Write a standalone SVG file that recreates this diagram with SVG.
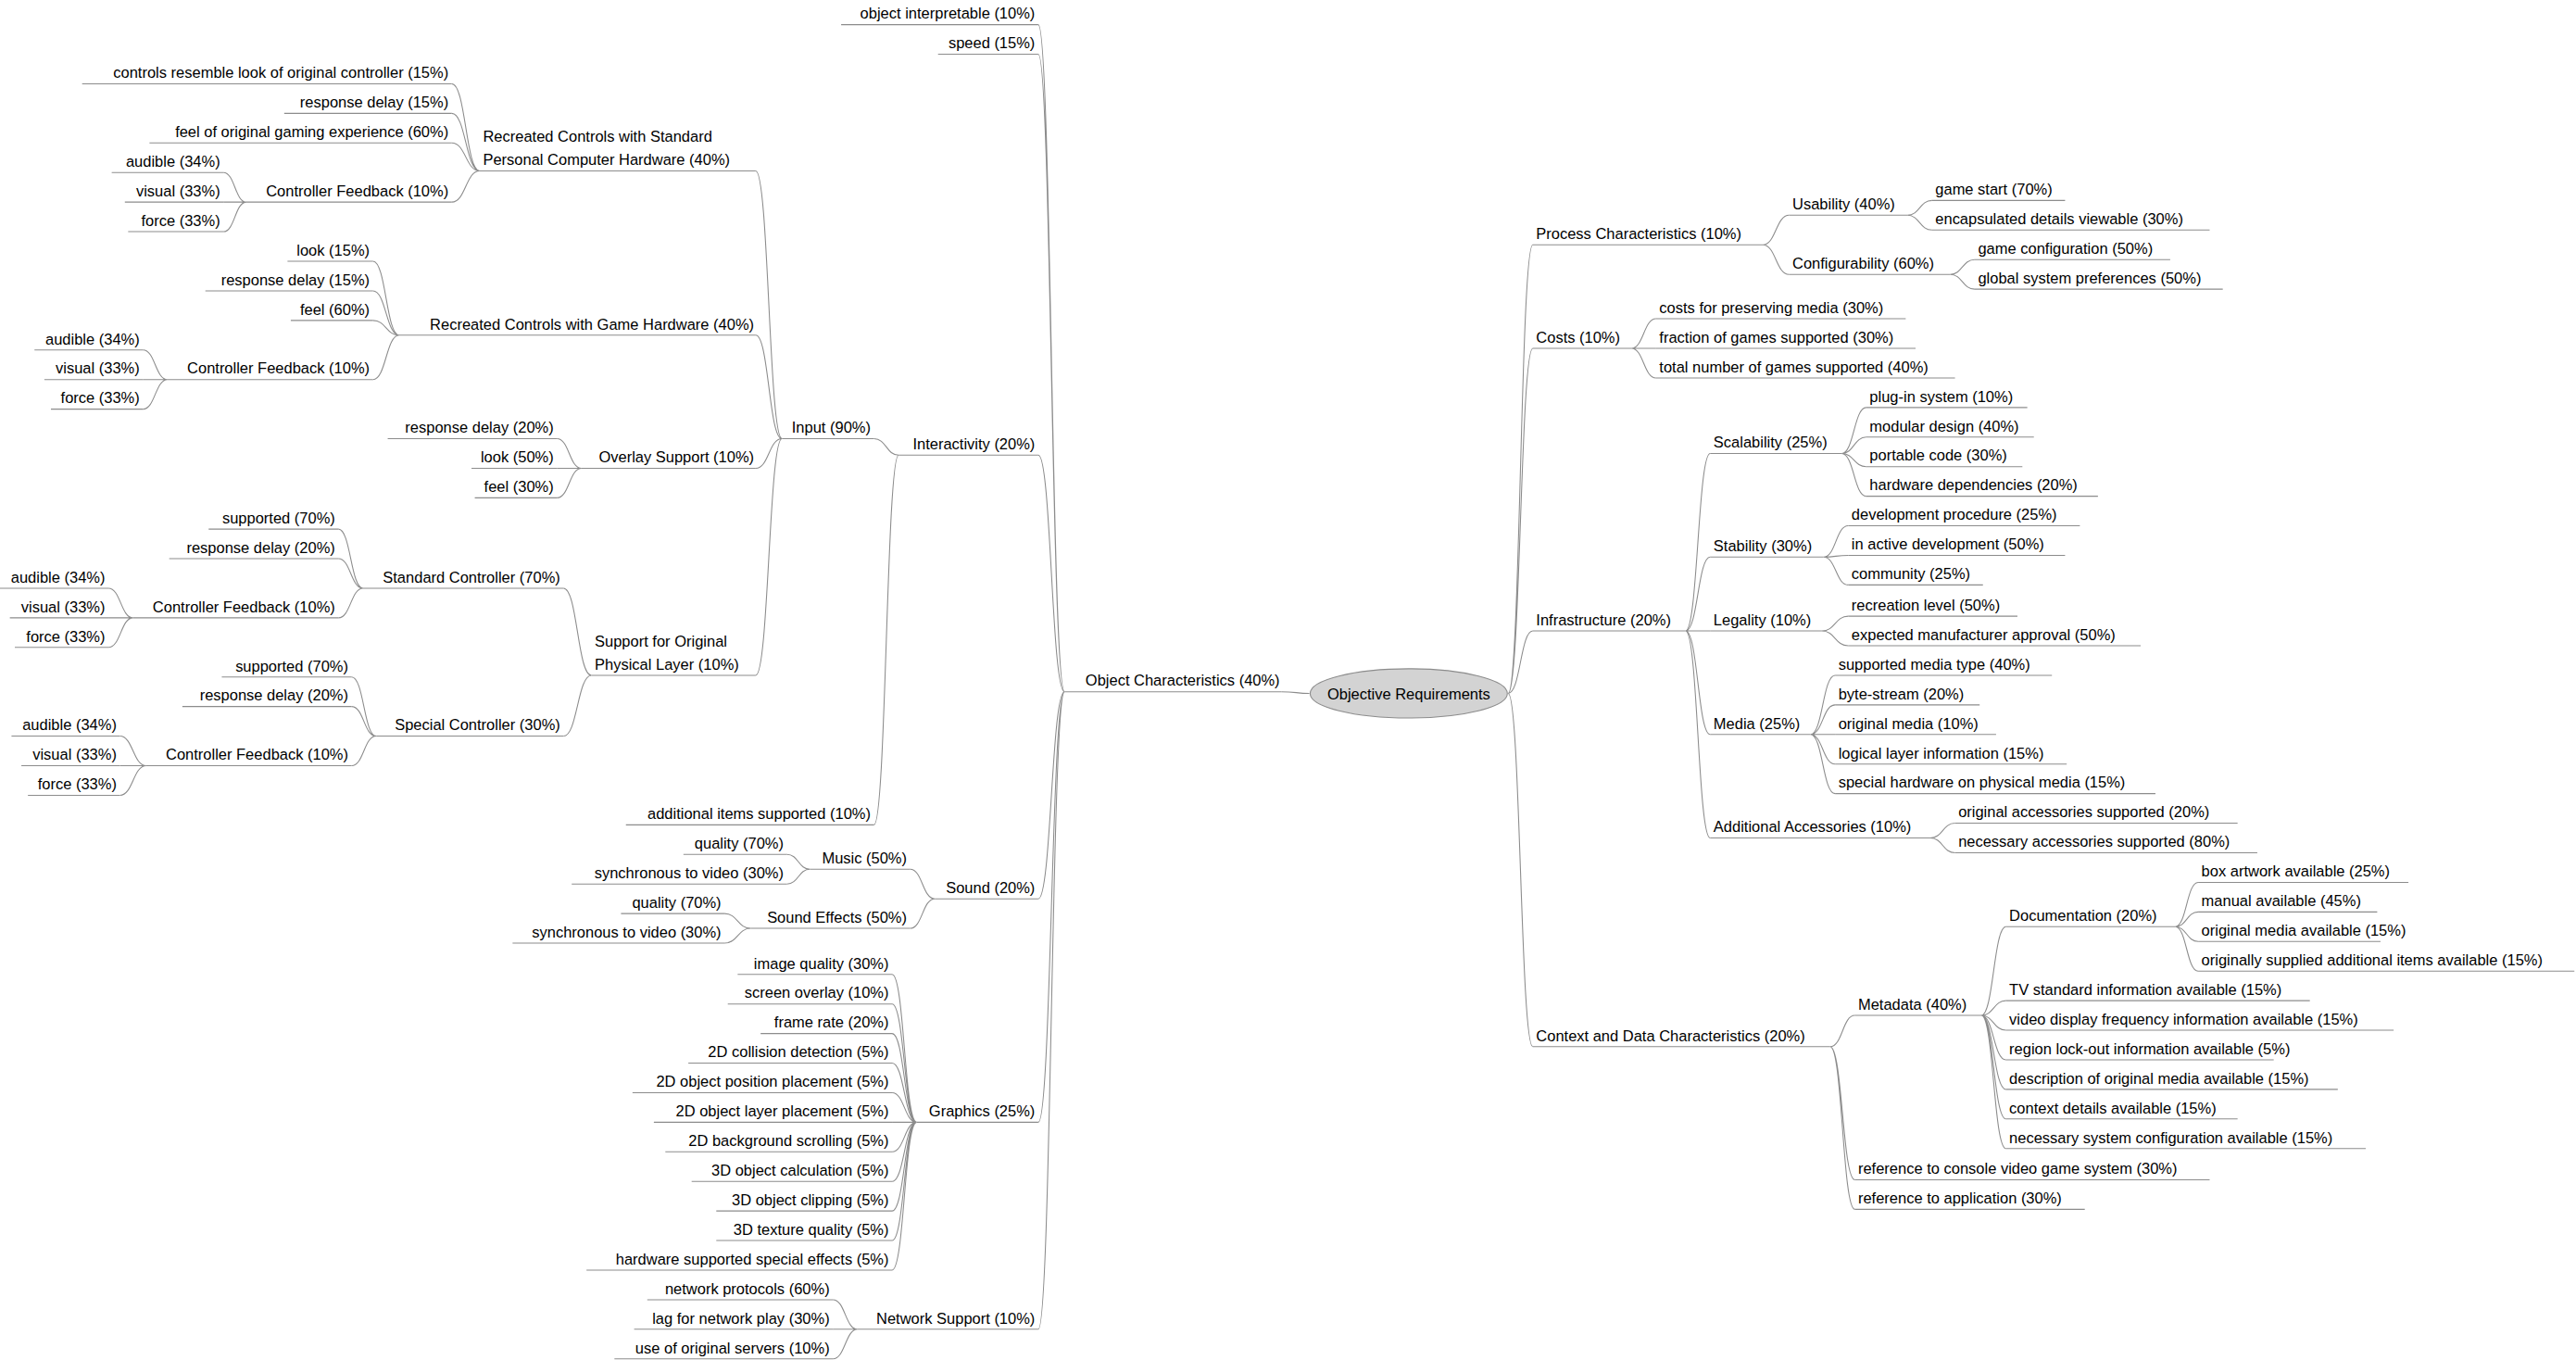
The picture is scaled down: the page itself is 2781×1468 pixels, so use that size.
<svg xmlns="http://www.w3.org/2000/svg" width="2781" height="1468" viewBox="0 0 2781 1468">
<style>
text{font-family:"Liberation Sans",Arial,sans-serif;font-size:9.3px;fill:#000}
.l{text-anchor:end}
.u,.c path{stroke:#8c8c8c;stroke-width:0.6;fill:none}
</style>
<rect width="2781" height="1468" fill="#fff"/>
<g transform="scale(1.7736)">
<g class="c" id="connectors">
<path d="M780 421C789 421 789 422 797 422"/>
<path d="M648 421C640 421 640 15 632 15M648 421C640 421 640 33 632 33M648 421C640 421 640 277 632 277M648 421C640 421 640 547 632 547M648 421C640 421 640 683 632 683M648 421C640 421 640 809 632 809"/>
<path d="M547 277C539.5 277 539.5 267 532 267M547 277C539.5 277 539.5 502 532 502"/>
<path d="M476 267C468 267 468 104 460 104M476 267C468 267 468 204 460 204M476 267C468 267 468 285 460 285M476 267C468 267 468 411 460 411"/>
<path d="M292 104C283.5 104 283.5 51 275 51M292 104C283.5 104 283.5 69 275 69M292 104C283.5 104 283.5 87 275 87M292 104C283.5 104 283.5 123 275 123"/>
<path d="M150 123C143 123 143 105 136 105M150 123C143 123 143 123 136 123M150 123C143 123 143 141 136 141"/>
<path d="M243 204C235 204 235 159 227 159M243 204C235 204 235 177 227 177M243 204C235 204 235 195 227 195M243 204C235 204 235 231 227 231"/>
<path d="M102 231C94.5 231 94.5 213 87 213M102 231C94.5 231 94.5 231 87 231M102 231C94.5 231 94.5 249 87 249"/>
<path d="M354 285C346.5 285 346.5 267 339 267M354 285C346.5 285 346.5 285 339 285M354 285C346.5 285 346.5 303 339 303"/>
<path d="M360 411C351.5 411 351.5 358 343 358M360 411C351.5 411 351.5 448 343 448"/>
<path d="M221 358C213.5 358 213.5 322 206 322M221 358C213.5 358 213.5 340 206 340M221 358C213.5 358 213.5 376 206 376"/>
<path d="M81 376C73.5 376 73.5 358 66 358M81 376C73.5 376 73.5 376 66 376M81 376C73.5 376 73.5 394 66 394"/>
<path d="M229 448C221.5 448 221.5 412 214 412M229 448C221.5 448 221.5 430 214 430M229 448C221.5 448 221.5 466 214 466"/>
<path d="M89 466C81 466 81 448 73 448M89 466C81 466 81 466 73 466M89 466C81 466 81 484 73 484"/>
<path d="M569 547C561.5 547 561.5 529 554 529M569 547C561.5 547 561.5 565 554 565"/>
<path d="M493 529C486 529 486 520 479 520M493 529C486 529 486 538 479 538"/>
<path d="M457 565C449 565 449 556 441 556M457 565C449 565 449 574 441 574"/>
<path d="M558 683C550.5 683 550.5 593 543 593M558 683C550.5 683 550.5 611 543 611M558 683C550.5 683 550.5 629 543 629M558 683C550.5 683 550.5 647 543 647M558 683C550.5 683 550.5 665 543 665M558 683C550.5 683 550.5 683 543 683M558 683C550.5 683 550.5 701 543 701M558 683C550.5 683 550.5 719 543 719M558 683C550.5 683 550.5 737 543 737M558 683C550.5 683 550.5 755 543 755M558 683C550.5 683 550.5 773 543 773"/>
<path d="M522 809C514.5 809 514.5 791 507 791M522 809C514.5 809 514.5 809 507 809M522 809C514.5 809 514.5 827 507 827"/>
<path d="M918 422C925.5 422 925.5 149 933 149M918 422C925.5 422 925.5 212 933 212M918 422C925.5 422 925.5 384 933 384M918 422C925.5 422 925.5 637 933 637"/>
<path d="M1073 149C1081 149 1081 131 1089 131M1073 149C1081 149 1081 167 1089 167"/>
<path d="M1161 131C1168.5 131 1168.5 122 1176 122M1161 131C1168.5 131 1168.5 140 1176 140"/>
<path d="M1187 167C1194.5 167 1194.5 158 1202 158M1187 167C1194.5 167 1194.5 176 1202 176"/>
<path d="M993 212C1000.5 212 1000.5 194 1008 194M993 212C1000.5 212 1000.5 212 1008 212M993 212C1000.5 212 1000.5 230 1008 230"/>
<path d="M1026 384C1033.5 384 1033.5 276 1041 276M1026 384C1033.5 384 1033.5 339 1041 339M1026 384C1033.5 384 1033.5 384 1041 384M1026 384C1033.5 384 1033.5 447 1041 447M1026 384C1033.5 384 1033.5 510 1041 510"/>
<path d="M1121 276C1128.5 276 1128.5 248 1136 248M1121 276C1128.5 276 1128.5 266 1136 266M1121 276C1128.5 276 1128.5 284 1136 284M1121 276C1128.5 276 1128.5 302 1136 302"/>
<path d="M1110 339C1117.5 339 1117.5 320 1125 320M1110 339C1117.5 339 1117.5 338 1125 338M1110 339C1117.5 339 1117.5 356 1125 356"/>
<path d="M1109 384C1117 384 1117 375 1125 375M1109 384C1117 384 1117 393 1125 393"/>
<path d="M1102 447C1109.5 447 1109.5 411 1117 411M1102 447C1109.5 447 1109.5 429 1117 429M1102 447C1109.5 447 1109.5 447 1117 447M1102 447C1109.5 447 1109.5 465 1117 465M1102 447C1109.5 447 1109.5 483 1117 483"/>
<path d="M1175 510C1182.5 510 1182.5 501 1190 501M1175 510C1182.5 510 1182.5 519 1190 519"/>
<path d="M1114 637C1121.5 637 1121.5 618 1129 618M1114 637C1121.5 637 1121.5 718 1129 718M1114 637C1121.5 637 1121.5 736 1129 736"/>
<path d="M1206 618C1213.5 618 1213.5 564 1221 564M1206 618C1213.5 618 1213.5 609 1221 609M1206 618C1213.5 618 1213.5 627 1221 627M1206 618C1213.5 618 1213.5 645 1221 645M1206 618C1213.5 618 1213.5 663 1221 663M1206 618C1213.5 618 1213.5 681 1221 681M1206 618C1213.5 618 1213.5 699 1221 699"/>
<path d="M1324 564C1331 564 1331 537 1338 537M1324 564C1331 564 1331 555 1338 555M1324 564C1331 564 1331 573 1338 573M1324 564C1331 564 1331 591 1338 591"/>
</g>
<g id="root"><ellipse cx="857.5" cy="422" rx="60" ry="15" fill="#d3d3d3" stroke="#8c8c8c" stroke-width="0.6"/><text x="857.5" y="425.5" text-anchor="middle">Objective Requirements</text></g>
<g id="oc"><text class="l" x="779" y="417.5">Object Characteristics (40%)</text><path class="u" d="M648 421H780"/></g>
<g id="oi"><text class="l" x="630" y="11.5">object interpretable (10%)</text><path class="u" d="M512 15H632"/></g>
<g id="sp"><text class="l" x="630" y="29.5">speed (15%)</text><path class="u" d="M571 33H632"/></g>
<g id="inter"><text class="l" x="630" y="273.5">Interactivity (20%)</text><path class="u" d="M547 277H632"/></g>
<g id="input"><text class="l" x="530" y="263.5">Input (90%)</text><path class="u" d="M476 267H532"/></g>
<g id="addit"><text class="l" x="530" y="498.5">additional items supported (10%)</text><path class="u" d="M381 502H532"/></g>
<g id="rcs"><text x="294" y="86.5">Recreated Controls with Standard</text><text x="294" y="100.5">Personal Computer Hardware (40%)</text><path class="u" d="M292 104H460"/></g>
<g id="rcs1"><text class="l" x="273" y="47.5">controls resemble look of original controller (15%)</text><path class="u" d="M50 51H275"/></g>
<g id="rcs2"><text class="l" x="273" y="65.5">response delay (15%)</text><path class="u" d="M173 69H275"/></g>
<g id="rcs3"><text class="l" x="273" y="83.5">feel of original gaming experience (60%)</text><path class="u" d="M91 87H275"/></g>
<g id="cf1"><text class="l" x="273" y="119.5">Controller Feedback (10%)</text><path class="u" d="M150 123H275"/></g>
<g id="cf1a"><text class="l" x="134" y="101.5">audible (34%)</text><path class="u" d="M68 105H136"/></g>
<g id="cf1b"><text class="l" x="134" y="119.5">visual (33%)</text><path class="u" d="M76 123H136"/></g>
<g id="cf1c"><text class="l" x="134" y="137.5">force (33%)</text><path class="u" d="M78 141H136"/></g>
<g id="rcg"><text class="l" x="459" y="200.5">Recreated Controls with Game Hardware (40%)</text><path class="u" d="M243 204H460"/></g>
<g id="rcg1"><text class="l" x="225" y="155.5">look (15%)</text><path class="u" d="M175 159H227"/></g>
<g id="rcg2"><text class="l" x="225" y="173.5">response delay (15%)</text><path class="u" d="M125 177H227"/></g>
<g id="rcg3"><text class="l" x="225" y="191.5">feel (60%)</text><path class="u" d="M177 195H227"/></g>
<g id="cf2"><text class="l" x="225" y="227.5">Controller Feedback (10%)</text><path class="u" d="M102 231H227"/></g>
<g id="cf2a"><text class="l" x="85" y="209.5">audible (34%)</text><path class="u" d="M21 213H87"/></g>
<g id="cf2b"><text class="l" x="85" y="227.5">visual (33%)</text><path class="u" d="M27 231H87"/></g>
<g id="cf2c"><text class="l" x="85" y="245.5">force (33%)</text><path class="u" d="M31 249H87"/></g>
<g id="ov"><text class="l" x="459" y="281.5">Overlay Support (10%)</text><path class="u" d="M354 285H460"/></g>
<g id="ov1"><text class="l" x="337" y="263.5">response delay (20%)</text><path class="u" d="M236 267H339"/></g>
<g id="ov2"><text class="l" x="337" y="281.5">look (50%)</text><path class="u" d="M287 285H339"/></g>
<g id="ov3"><text class="l" x="337" y="299.5">feel (30%)</text><path class="u" d="M289 303H339"/></g>
<g id="so"><text x="362" y="393.5">Support for Original</text><text x="362" y="407.5">Physical Layer (10%)</text><path class="u" d="M360 411H460"/></g>
<g id="sc"><text class="l" x="341" y="354.5">Standard Controller (70%)</text><path class="u" d="M221 358H343"/></g>
<g id="sc1"><text class="l" x="204" y="318.5">supported (70%)</text><path class="u" d="M127 322H206"/></g>
<g id="sc2"><text class="l" x="204" y="336.5">response delay (20%)</text><path class="u" d="M103 340H206"/></g>
<g id="cf3"><text class="l" x="204" y="372.5">Controller Feedback (10%)</text><path class="u" d="M81 376H206"/></g>
<g id="cf3a"><text class="l" x="64" y="354.5">audible (34%)</text><path class="u" d="M0 358H66"/></g>
<g id="cf3b"><text class="l" x="64" y="372.5">visual (33%)</text><path class="u" d="M6 376H66"/></g>
<g id="cf3c"><text class="l" x="64" y="390.5">force (33%)</text><path class="u" d="M9 394H66"/></g>
<g id="spc"><text class="l" x="341" y="444.5">Special Controller (30%)</text><path class="u" d="M229 448H343"/></g>
<g id="spc1"><text class="l" x="212" y="408.5">supported (70%)</text><path class="u" d="M135 412H214"/></g>
<g id="spc2"><text class="l" x="212" y="426.5">response delay (20%)</text><path class="u" d="M111 430H214"/></g>
<g id="cf4"><text class="l" x="212" y="462.5">Controller Feedback (10%)</text><path class="u" d="M89 466H214"/></g>
<g id="cf4a"><text class="l" x="71" y="444.5">audible (34%)</text><path class="u" d="M7 448H73"/></g>
<g id="cf4b"><text class="l" x="71" y="462.5">visual (33%)</text><path class="u" d="M13 466H73"/></g>
<g id="cf4c"><text class="l" x="71" y="480.5">force (33%)</text><path class="u" d="M17 484H73"/></g>
<g id="snd"><text class="l" x="630" y="543.5">Sound (20%)</text><path class="u" d="M569 547H632"/></g>
<g id="mus"><text class="l" x="552" y="525.5">Music (50%)</text><path class="u" d="M493 529H554"/></g>
<g id="mus1"><text class="l" x="477" y="516.5">quality (70%)</text><path class="u" d="M416 520H479"/></g>
<g id="mus2"><text class="l" x="477" y="534.5">synchronous to video (30%)</text><path class="u" d="M348 538H479"/></g>
<g id="sfx"><text class="l" x="552" y="561.5">Sound Effects (50%)</text><path class="u" d="M457 565H554"/></g>
<g id="sfx1"><text class="l" x="439" y="552.5">quality (70%)</text><path class="u" d="M378 556H441"/></g>
<g id="sfx2"><text class="l" x="439" y="570.5">synchronous to video (30%)</text><path class="u" d="M312 574H441"/></g>
<g id="gfx"><text class="l" x="630" y="679.5">Graphics (25%)</text><path class="u" d="M558 683H632"/></g>
<g id="g1"><text class="l" x="541" y="589.5">image quality (30%)</text><path class="u" d="M449 593H543"/></g>
<g id="g2"><text class="l" x="541" y="607.5">screen overlay (10%)</text><path class="u" d="M443 611H543"/></g>
<g id="g3"><text class="l" x="541" y="625.5">frame rate (20%)</text><path class="u" d="M463 629H543"/></g>
<g id="g4"><text class="l" x="541" y="643.5">2D collision detection (5%)</text><path class="u" d="M419 647H543"/></g>
<g id="g5"><text class="l" x="541" y="661.5">2D object position placement (5%)</text><path class="u" d="M385 665H543"/></g>
<g id="g6"><text class="l" x="541" y="679.5">2D object layer placement (5%)</text><path class="u" d="M398 683H543"/></g>
<g id="g7"><text class="l" x="541" y="697.5">2D background scrolling (5%)</text><path class="u" d="M405 701H543"/></g>
<g id="g8"><text class="l" x="541" y="715.5">3D object calculation (5%)</text><path class="u" d="M421 719H543"/></g>
<g id="g9"><text class="l" x="541" y="733.5">3D object clipping (5%)</text><path class="u" d="M436 737H543"/></g>
<g id="g10"><text class="l" x="541" y="751.5">3D texture quality (5%)</text><path class="u" d="M436 755H543"/></g>
<g id="g11"><text class="l" x="541" y="769.5">hardware supported special effects (5%)</text><path class="u" d="M357 773H543"/></g>
<g id="net"><text class="l" x="630" y="805.5">Network Support (10%)</text><path class="u" d="M522 809H632"/></g>
<g id="net1"><text class="l" x="505" y="787.5">network protocols (60%)</text><path class="u" d="M394 791H507"/></g>
<g id="net2"><text class="l" x="505" y="805.5">lag for network play (30%)</text><path class="u" d="M386 809H507"/></g>
<g id="net3"><text class="l" x="505" y="823.5">use of original servers (10%)</text><path class="u" d="M374 827H507"/></g>
<g id="pc"><text x="935" y="145.5">Process Characteristics (10%)</text><path class="u" d="M933 149H1073"/></g>
<g id="us"><text x="1091" y="127.5">Usability (40%)</text><path class="u" d="M1089 131H1161"/></g>
<g id="us1"><text x="1178" y="118.5">game start (70%)</text><path class="u" d="M1176 122H1257"/></g>
<g id="us2"><text x="1178" y="136.5">encapsulated details viewable (30%)</text><path class="u" d="M1176 140H1345"/></g>
<g id="cfg"><text x="1091" y="163.5">Configurability (60%)</text><path class="u" d="M1089 167H1187"/></g>
<g id="cfg1"><text x="1204" y="154.5">game configuration (50%)</text><path class="u" d="M1202 158H1321"/></g>
<g id="cfg2"><text x="1204" y="172.5">global system preferences (50%)</text><path class="u" d="M1202 176H1353"/></g>
<g id="cost"><text x="935" y="208.5">Costs (10%)</text><path class="u" d="M933 212H993"/></g>
<g id="cost1"><text x="1010" y="190.5">costs for preserving media (30%)</text><path class="u" d="M1008 194H1160"/></g>
<g id="cost2"><text x="1010" y="208.5">fraction of games supported (30%)</text><path class="u" d="M1008 212H1166"/></g>
<g id="cost3"><text x="1010" y="226.5">total number of games supported (40%)</text><path class="u" d="M1008 230H1190"/></g>
<g id="inf"><text x="935" y="380.5">Infrastructure (20%)</text><path class="u" d="M933 384H1026"/></g>
<g id="scal"><text x="1043" y="272.5">Scalability (25%)</text><path class="u" d="M1041 276H1121"/></g>
<g id="scal1"><text x="1138" y="244.5">plug-in system (10%)</text><path class="u" d="M1136 248H1234"/></g>
<g id="scal2"><text x="1138" y="262.5">modular design (40%)</text><path class="u" d="M1136 266H1238"/></g>
<g id="scal3"><text x="1138" y="280.5">portable code (30%)</text><path class="u" d="M1136 284H1231"/></g>
<g id="scal4"><text x="1138" y="298.5">hardware dependencies (20%)</text><path class="u" d="M1136 302H1277"/></g>
<g id="stab"><text x="1043" y="335.5">Stability (30%)</text><path class="u" d="M1041 339H1110"/></g>
<g id="stab1"><text x="1127" y="316.5">development procedure (25%)</text><path class="u" d="M1125 320H1266"/></g>
<g id="stab2"><text x="1127" y="334.5">in active development (50%)</text><path class="u" d="M1125 338H1257"/></g>
<g id="stab3"><text x="1127" y="352.5">community (25%)</text><path class="u" d="M1125 356H1207"/></g>
<g id="leg"><text x="1043" y="380.5">Legality (10%)</text><path class="u" d="M1041 384H1109"/></g>
<g id="leg1"><text x="1127" y="371.5">recreation level (50%)</text><path class="u" d="M1125 375H1228"/></g>
<g id="leg2"><text x="1127" y="389.5">expected manufacturer approval (50%)</text><path class="u" d="M1125 393H1303"/></g>
<g id="med"><text x="1043" y="443.5">Media (25%)</text><path class="u" d="M1041 447H1102"/></g>
<g id="med1"><text x="1119" y="407.5">supported media type (40%)</text><path class="u" d="M1117 411H1249"/></g>
<g id="med2"><text x="1119" y="425.5">byte-stream (20%)</text><path class="u" d="M1117 429H1205"/></g>
<g id="med3"><text x="1119" y="443.5">original media (10%)</text><path class="u" d="M1117 447H1215"/></g>
<g id="med4"><text x="1119" y="461.5">logical layer information (15%)</text><path class="u" d="M1117 465H1258"/></g>
<g id="med5"><text x="1119" y="479.5">special hardware on physical media (15%)</text><path class="u" d="M1117 483H1312"/></g>
<g id="acc"><text x="1043" y="506.5">Additional Accessories (10%)</text><path class="u" d="M1041 510H1175"/></g>
<g id="acc1"><text x="1192" y="497.5">original accessories supported (20%)</text><path class="u" d="M1190 501H1362"/></g>
<g id="acc2"><text x="1192" y="515.5">necessary accessories supported (80%)</text><path class="u" d="M1190 519H1374"/></g>
<g id="ctx"><text x="935" y="633.5">Context and Data Characteristics (20%)</text><path class="u" d="M933 637H1114"/></g>
<g id="meta"><text x="1131" y="614.5">Metadata (40%)</text><path class="u" d="M1129 618H1206"/></g>
<g id="ref1"><text x="1131" y="714.5">reference to console video game system (30%)</text><path class="u" d="M1129 718H1345"/></g>
<g id="ref2"><text x="1131" y="732.5">reference to application (30%)</text><path class="u" d="M1129 736H1269"/></g>
<g id="doc"><text x="1223" y="560.5">Documentation (20%)</text><path class="u" d="M1221 564H1324"/></g>
<g id="doc1"><text x="1340" y="533.5">box artwork available (25%)</text><path class="u" d="M1338 537H1466"/></g>
<g id="doc2"><text x="1340" y="551.5">manual available (45%)</text><path class="u" d="M1338 555H1447"/></g>
<g id="doc3"><text x="1340" y="569.5">original media available (15%)</text><path class="u" d="M1338 573H1449"/></g>
<g id="doc4"><text x="1340" y="587.5">originally supplied additional items available (15%)</text><path class="u" d="M1338 591H1567"/></g>
<g id="m1"><text x="1223" y="605.5">TV standard information available (15%)</text><path class="u" d="M1221 609H1406"/></g>
<g id="m2"><text x="1223" y="623.5">video display frequency information available (15%)</text><path class="u" d="M1221 627H1457"/></g>
<g id="m3"><text x="1223" y="641.5">region lock-out information available (5%)</text><path class="u" d="M1221 645H1384"/></g>
<g id="m4"><text x="1223" y="659.5">description of original media available (15%)</text><path class="u" d="M1221 663H1423"/></g>
<g id="m5"><text x="1223" y="677.5">context details available (15%)</text><path class="u" d="M1221 681H1362"/></g>
<g id="m6"><text x="1223" y="695.5">necessary system configuration available (15%)</text><path class="u" d="M1221 699H1440"/></g>
</g>
</svg>
